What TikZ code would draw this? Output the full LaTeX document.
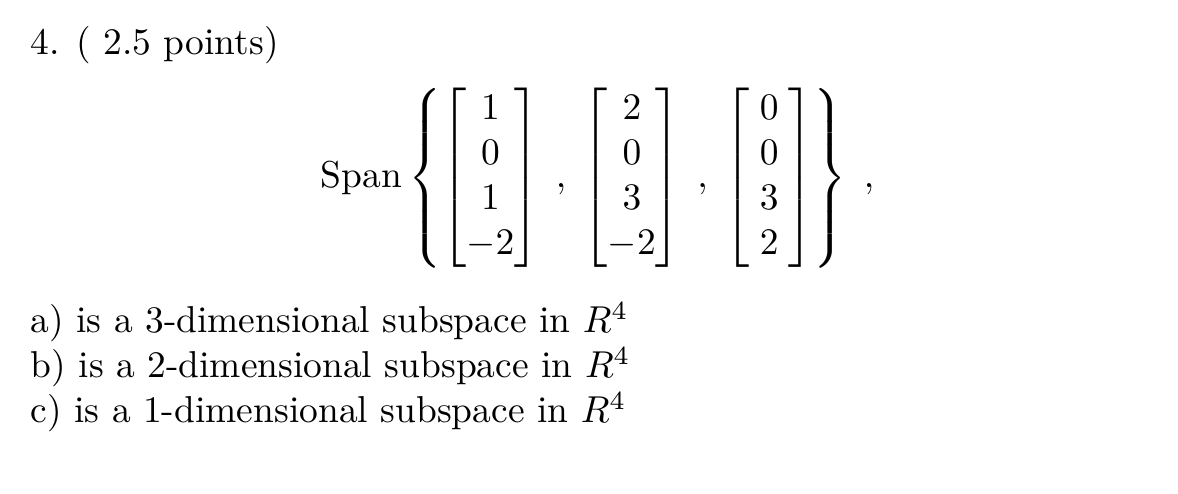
\documentclass[tikz,border=0pt]{standalone}
\usepackage{amsmath}
\begin{document}
\begin{tikzpicture}[x=0.267pt,y=-0.267pt,txt/.style={anchor=base west,inner sep=0pt}]
\useasboundingbox (0,0) rectangle (1178,494);
\node[txt] (t) at (30,55) {4. ( 2.5 points)};
\node[anchor=west,inner sep=0pt] (s) at (320,178) {$\text{Span}\left\{\begin{bmatrix}\,1\,\\0\\1\\-2\end{bmatrix}\;,\;\begin{bmatrix}\,2\,\\0\\3\\-2\end{bmatrix}\;,\;\begin{bmatrix}\;0\;\\0\\3\\2\end{bmatrix}\right\}\;,$};
\node[txt] (a) at (30,333) {a) is a 3-dimensional subspace in $R^4$};
\node[txt] (b) at (30,378) {b) is a 2-dimensional subspace in $R^4$};
\node[txt] (c) at (30,423) {c) is a 1-dimensional subspace in $R^4$};
\end{tikzpicture}
\end{document}
